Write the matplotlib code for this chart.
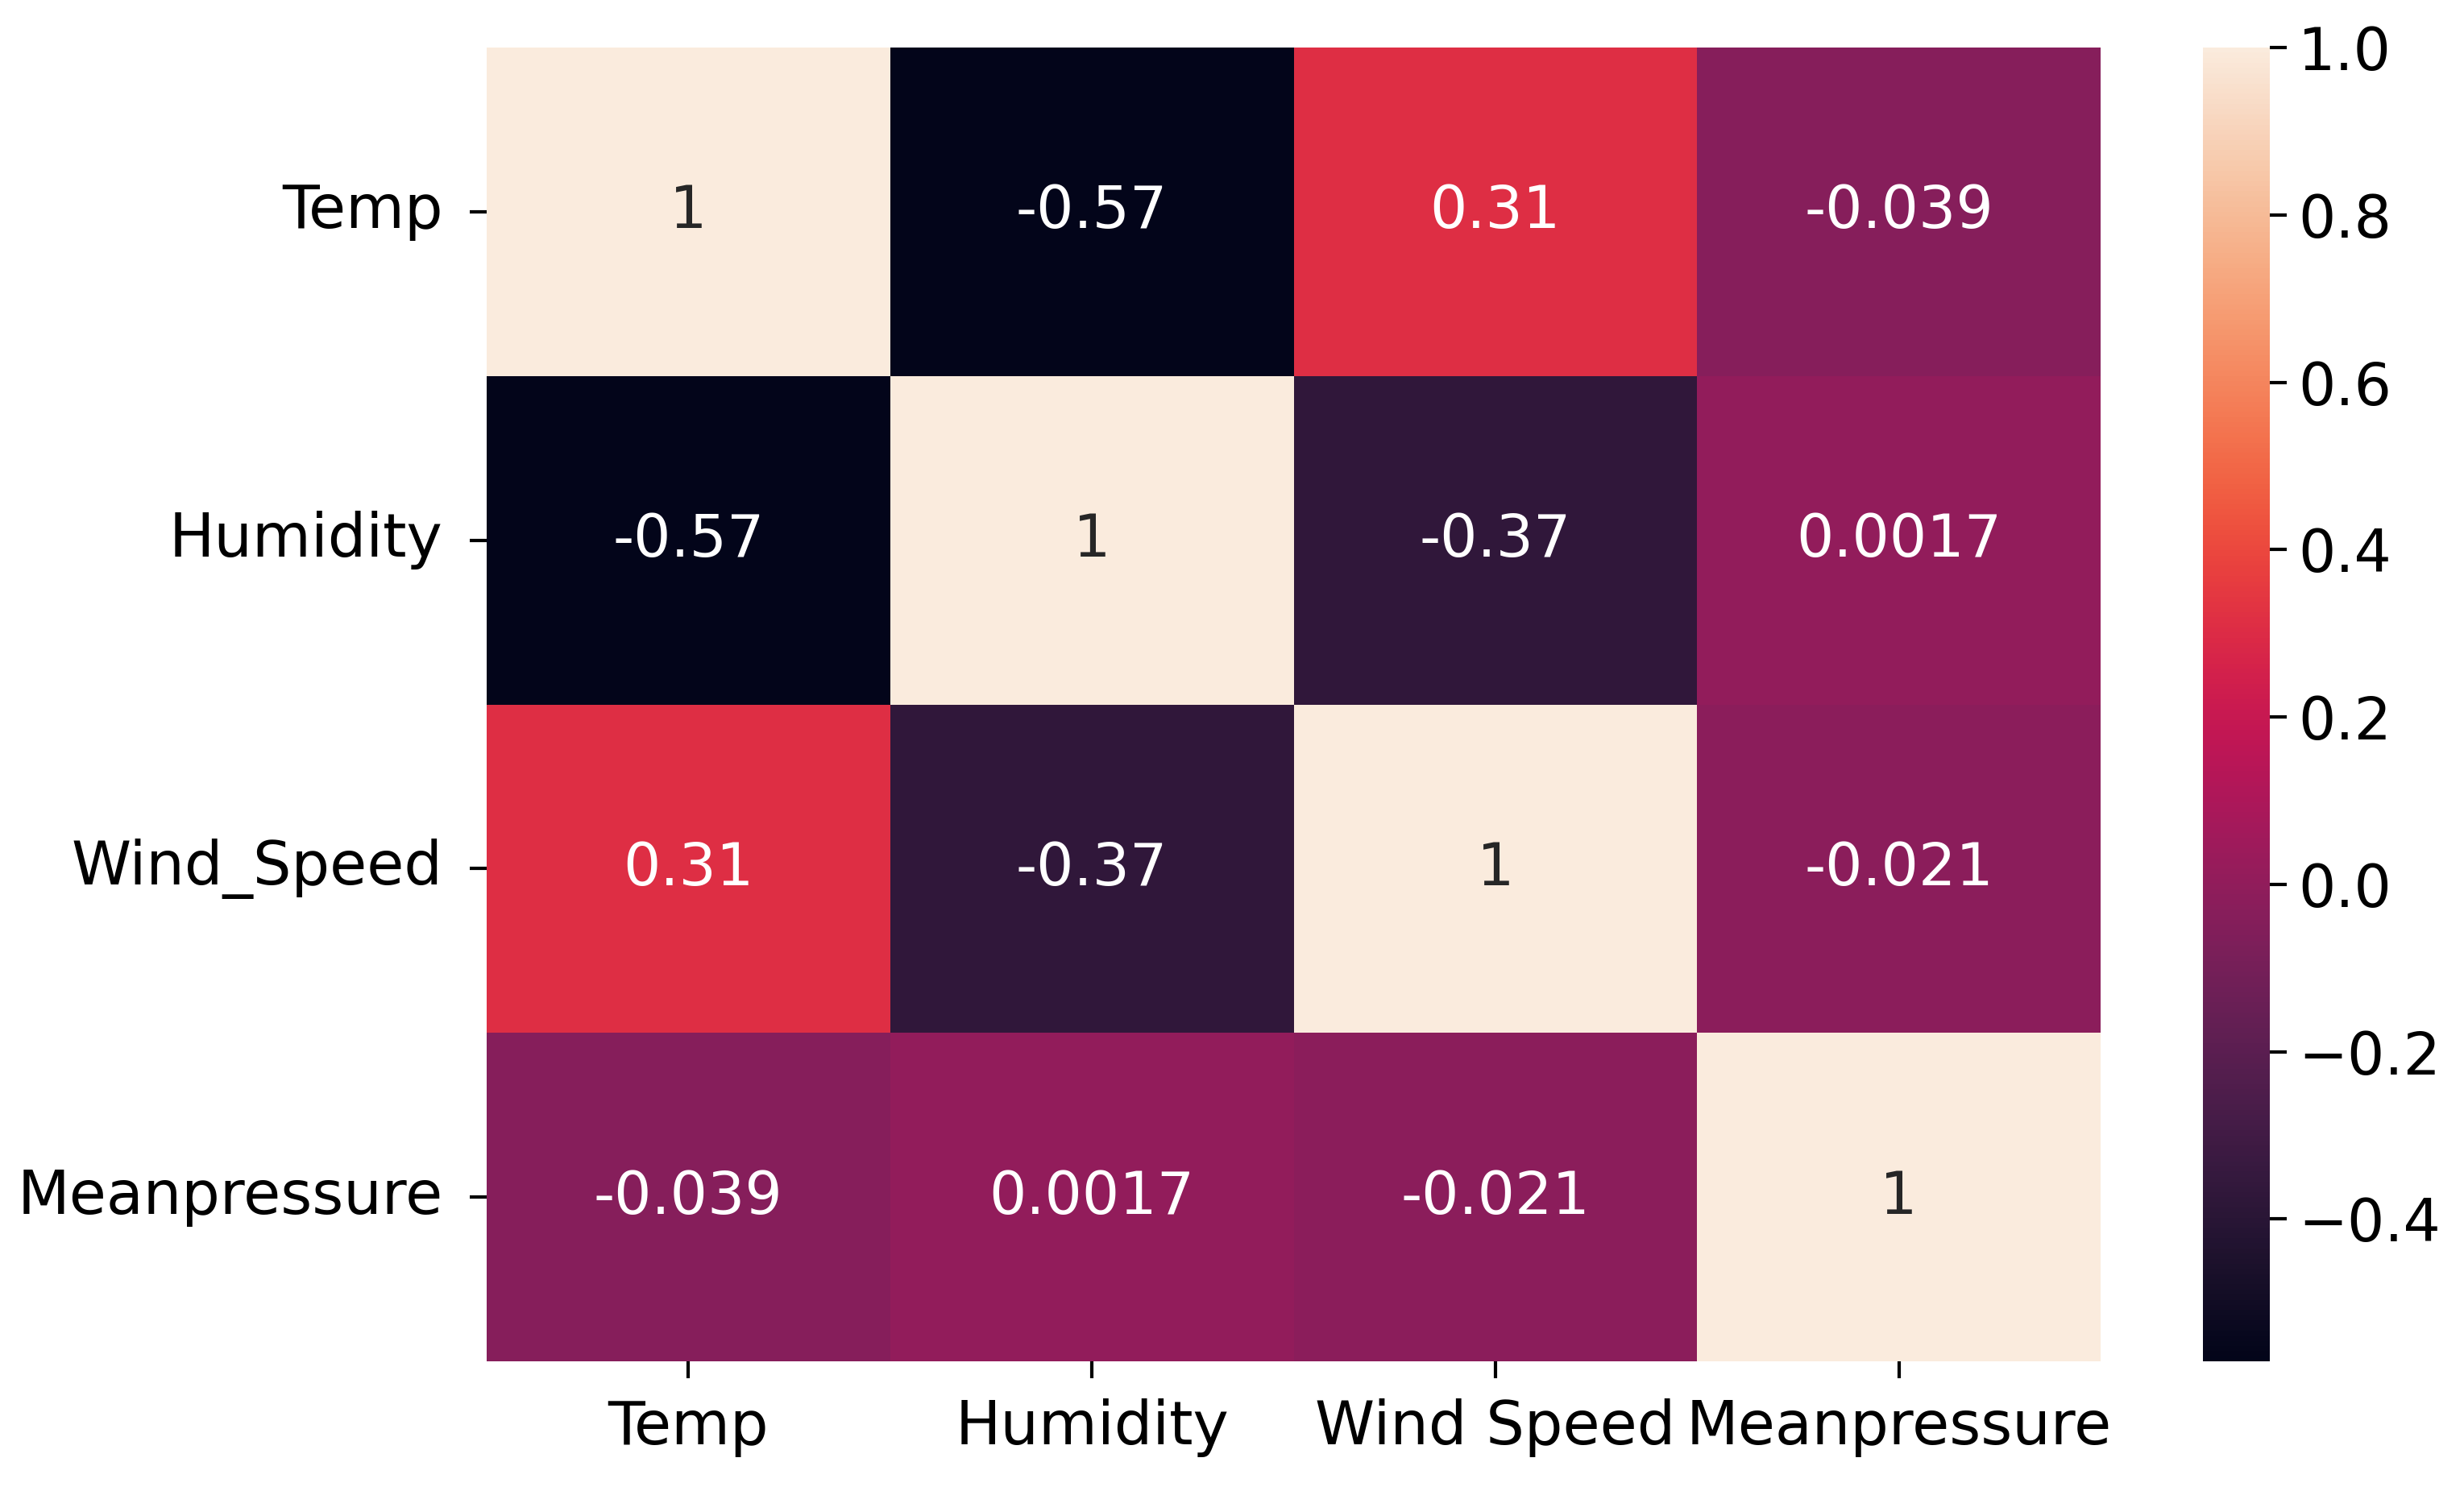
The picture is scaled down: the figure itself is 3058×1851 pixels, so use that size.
import numpy as np
import matplotlib
matplotlib.use("Agg")
import matplotlib.pyplot as plt
import seaborn as sns

# correlation matrix values
row_labels = ['Temp', 'Humidity', 'Wind_Speed', 'Meanpressure']
col_labels = ['Temp', 'Humidity', 'Wind Speed', 'Meanpressure']
temp = [1, -0.57, 0.31, -0.039]
humidity = [-0.57, 1, -0.37, 0.0017]
wind_speed = [0.31, -0.37, 1, -0.021]
meanpressure = [-0.039, 0.0017, -0.021, 1]

corr = np.array([temp, humidity, wind_speed, meanpressure])

W, H = 3058, 1851
fig = plt.figure(figsize=(W / 300, H / 300), dpi=300)
bottom = (H - 1690) / H
height = 1631 / H
ax = fig.add_axes([604 / W, bottom, 2003 / W, height])
cax = fig.add_axes([2734 / W, bottom, 83 / W, height])

sns.heatmap(corr, annot=True, ax=ax, cbar_ax=cax,
            xticklabels=col_labels, yticklabels=row_labels,
            annot_kws={'fontsize': 17.5})

ax.tick_params(axis='y', labelsize=18, length=5, width=1, pad=8)
ax.tick_params(axis='x', labelsize=18, length=5, width=1, pad=6)
ax.set_yticklabels(row_labels, rotation=0)
ax.set_xticklabels(col_labels, rotation=0)
cax.tick_params(labelsize=17.5, length=5, width=1)
cax.set_yticks([-0.4, -0.2, 0.0, 0.2, 0.4, 0.6, 0.8, 1.0])

fig.savefig('out.png', dpi=300)
